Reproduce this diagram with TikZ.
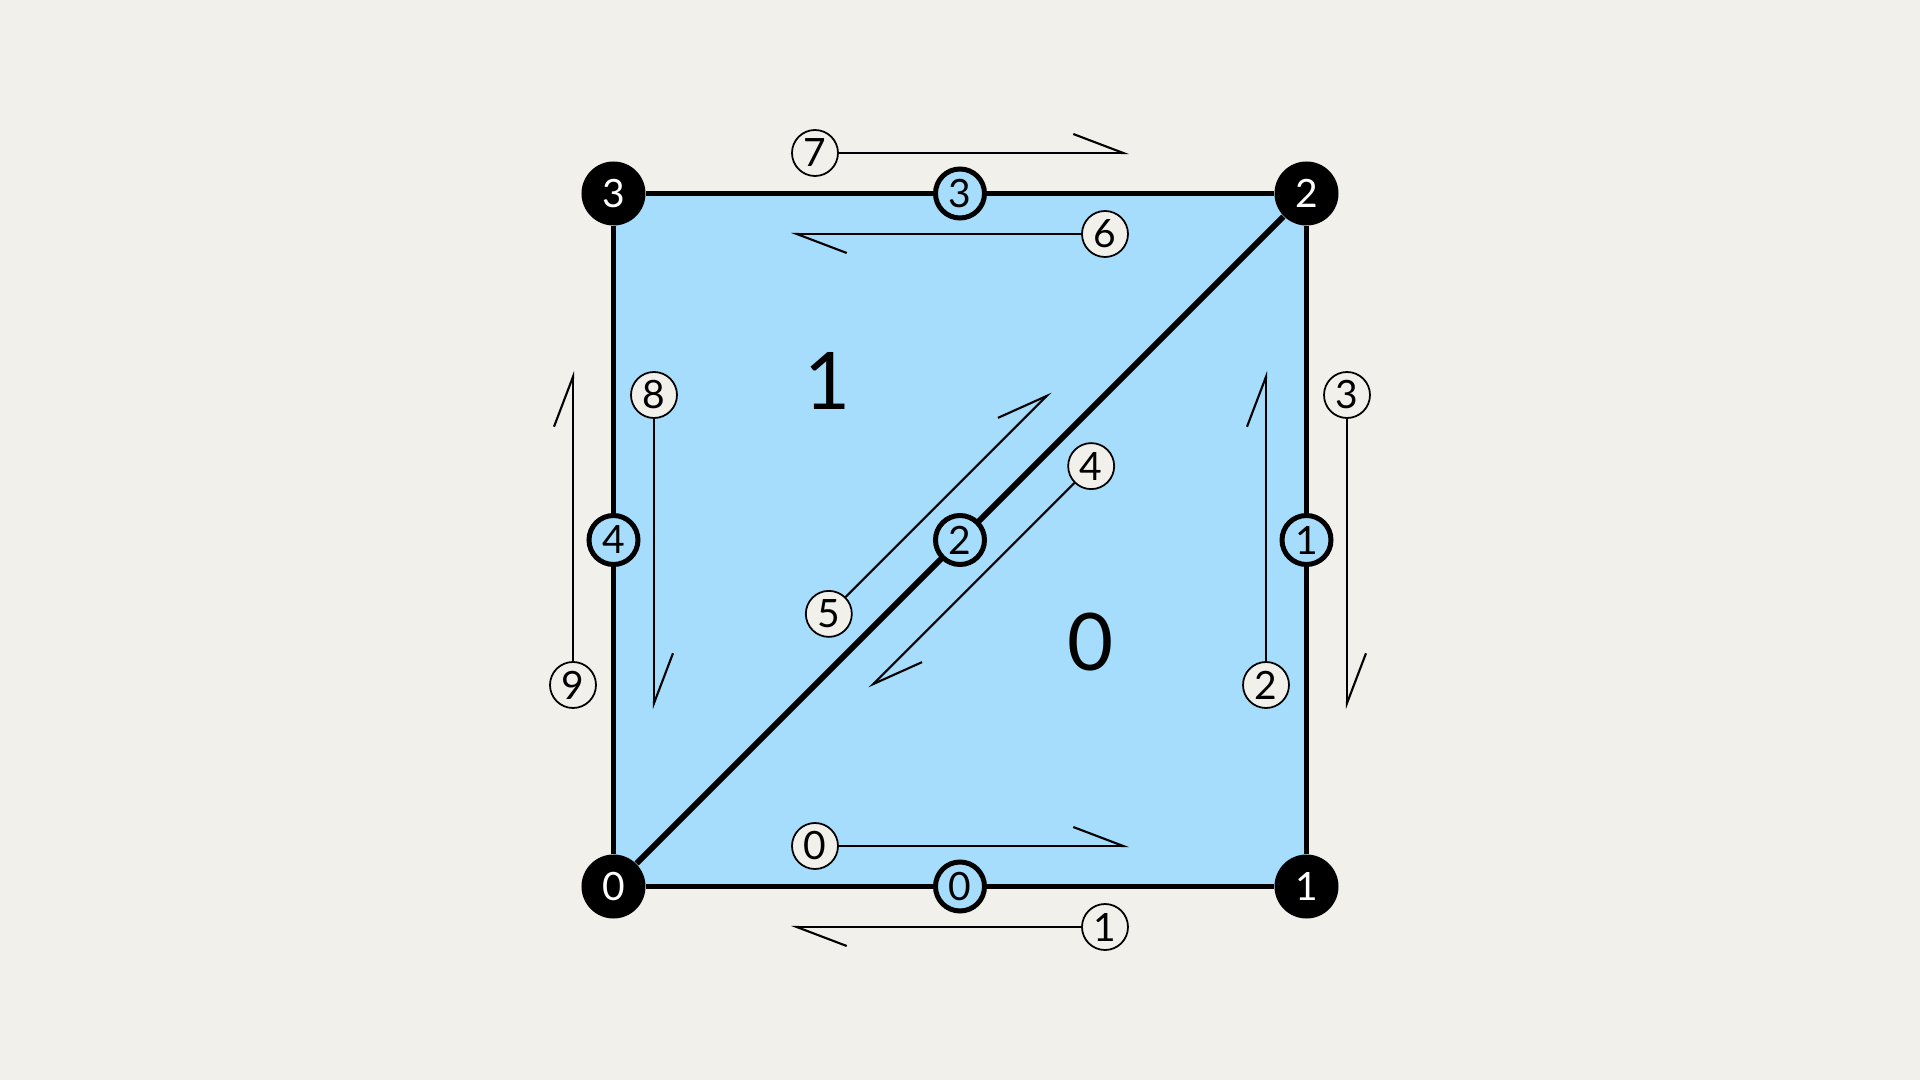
\documentclass[tikz,border=0pt]{standalone}
\usepackage{fontspec}
\setmainfont{Lato}
\usetikzlibrary{arrows.meta,backgrounds}
\definecolor{paper}{RGB}{242,240,235}
\definecolor{facefill}{RGB}{166,220,252}
\tikzset{
    halfedge/.style={ % requires library arrows.meta
        -{Straight Barb[harpoon,length=5.0mm,width=3.8mm]},
        line width=0.6pt
    },
}

\begin{document}
\begin{tikzpicture}
%% vertex shape and color
\tikzstyle{vertex}=[circle,fill=black,text=white,minimum size=0.64cm,inner sep=0pt,font=\fontsize{11.1}{12}\selectfont]
\tikzstyle{evertex}=[circle,fill=facefill,draw=black,line width=1.42pt,minimum size=0.49cm,inner sep=0pt,font=\fontsize{11.1}{12}\selectfont]
\tikzstyle{hvertex}=[circle,fill=paper,draw=black,line width=0.5pt,minimum size=0.46cm,inner sep=0pt,font=\fontsize{11.1}{12}\selectfont]
\tikzstyle{flabel}=[font=\fontsize{22.6}{24}\selectfont]
\tikzstyle{edge}=[line width=1.7pt]

% canvas
\useasboundingbox (-9.6,-5.4) rectangle (9.6,5.4);

%% nodes
% vertices
\foreach \name/\x/\y in {0/-3.465/-3.465,1/3.465/-3.465,2/3.465/3.465,3/-3.465/3.465}
\node[vertex] (G-\name) at (\x,\y) {\name};
% edges
\foreach \name/\x/\y in {0/0/-3.465,1/3.465/0,2/0/0,3/0/3.465,4/-3.465/0}
\node[evertex] (E-\name) at (\x,\y) {\name};
% faces
\node[flabel] (F-0) at (1.31,-1.02) {0};
\node[flabel] (F-1) at (-1.32,1.59) {1};

%% face and edges, behind the nodes
\begin{pgfonlayer}{background}
\fill[paper] (-9.6,-5.4) rectangle (9.6,5.4);
\fill[facefill] (G-0.center) -- (G-1.center) -- (G-2.center) -- (G-3.center) -- cycle;
\foreach \from/\to in {0/1,1/2,2/3,3/0,0/2}
\draw[edge] (G-\from) -- (G-\to);
\end{pgfonlayer}

%% half-edges
\foreach \name/\x/\y/\tx/\ty in {0/-1.45/-3.06/1.69/-3.06, 1/1.45/-3.87/-1.69/-3.87,
  2/3.06/-1.45/3.06/1.69, 3/3.87/1.45/3.87/-1.69,
  4/1.3117/0.7389/-0.9086/-1.4814, 5/-1.3117/-0.7389/0.9086/1.4814,
  6/1.45/3.06/-1.69/3.06, 7/-1.45/3.87/1.69/3.87,
  8/-3.06/1.45/-3.06/-1.69, 9/-3.87/-1.45/-3.87/1.69}
{
\node[hvertex] (H-\name) at (\x,\y) {\name};
\coordinate (T-\name) at (\tx,\ty);
\draw[halfedge] (H-\name) -- (T-\name);
}
\end{tikzpicture}
\end{document}
